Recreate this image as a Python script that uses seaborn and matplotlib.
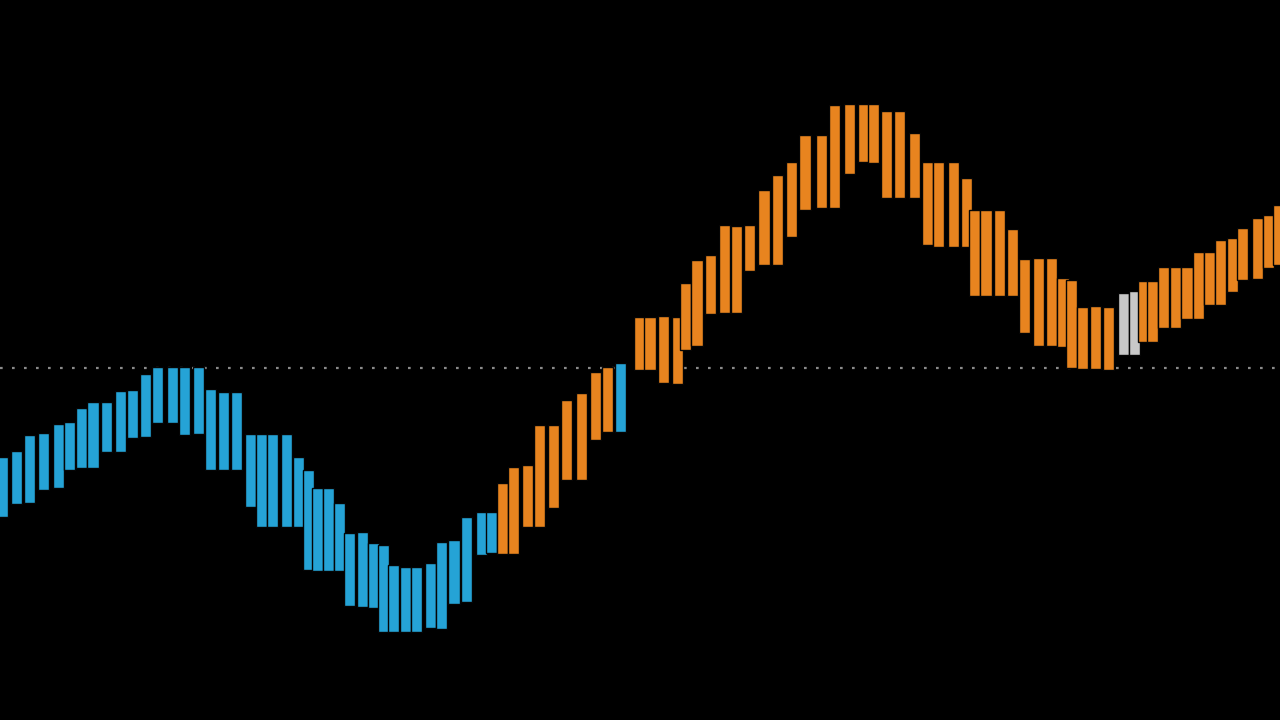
import numpy as np
import pandas as pd
import matplotlib
matplotlib.use("Agg")
import matplotlib.pyplot as plt
import seaborn as sns

# time position of each brick (minutes)
times = [0.2, 1.3, 2.4, 3.5, 4.7, 5.6, 6.6, 7.5, 8.6, 9.7, 10.7, 11.7, 12.7, 13.9, 14.9, 16.0,
         17.0, 18.0, 19.1, 20.2, 21.1, 22.0, 23.1, 24.1, 24.9, 25.6, 26.5, 27.4, 28.2, 29.2,
         30.1, 30.9, 31.7, 32.7, 33.6, 34.7, 35.6, 36.6, 37.6, 38.8, 39.6, 40.5, 41.4, 42.5,
         43.5, 44.6, 45.7, 46.9, 48.0, 49.0, 50.0, 51.6, 52.4, 53.5, 54.6, 55.3, 56.2, 57.3,
         58.4, 59.4, 60.4, 61.6, 62.7, 63.8, 64.9, 66.2, 67.3, 68.5, 69.6, 70.4, 71.5, 72.5,
         73.7, 74.8, 75.7, 76.9, 77.9, 78.6, 79.5, 80.6, 81.6, 82.6, 83.7, 84.8, 85.7, 86.4,
         87.3, 88.3, 89.4, 90.6, 91.5, 92.2, 92.9, 93.8, 94.8, 95.7, 96.6, 97.5, 98.4, 99.4,
         100.2, 101.4, 102.3, 103.1]

highs = [-8.9, -8.3, -6.7, -6.5, -5.6, -5.4, -4.0, -3.4, -3.4, -2.3, -2.2, -0.6, 0.1, 0.1, 0.1, 0.1,
         -2.1, -2.4, -2.4, -6.6, -6.6, -6.6, -6.6, -8.9, -10.2, -12.0, -12.0, -13.5, -16.5, -16.4,
         -17.5, -17.7, -19.7, -19.9, -19.9, -19.5, -17.4, -17.2, -14.9, -14.4, -14.4, -11.5, -9.9, -9.7,
         -5.7, -5.7, -3.2, -2.5, -0.4, 0.1, 0.5, 5.1, 5.1, 5.2, 5.1, 8.5, 10.8, 11.3,
         14.3, 14.2, 14.3, 17.8, 19.3, 20.6, 23.3, 23.3, 26.3, 26.4, 26.4, 26.4, 25.7, 25.7,
         23.5, 20.6, 20.6, 20.6, 19.0, 15.8, 15.8, 15.8, 13.9, 10.9, 11.0, 11.0, 9.0, 8.8,
         6.1, 6.2, 6.1, 7.5, 7.7, 8.7, 8.7, 10.1, 10.1, 10.1, 11.6, 11.6, 12.8, 13.0,
         14.0, 15.0, 15.3, 16.3]

lows = [-14.9, -13.6, -13.5, -12.2, -12.0, -10.2, -10.0, -10.0, -8.4, -8.4, -7.0, -6.9, -5.5, -5.5, -6.7, -6.6,
        -10.2, -10.2, -10.2, -13.9, -15.9, -15.9, -15.9, -15.9, -20.2, -20.3, -20.3, -20.3, -23.8, -23.9,
        -24.0, -26.4, -26.4, -26.4, -26.4, -26.0, -26.1, -23.6, -23.4, -18.7, -18.5, -18.6, -18.6, -15.9,
        -15.9, -14.0, -11.2, -11.2, -7.2, -6.4, -6.4, -0.2, -0.2, -1.5, -1.6, 1.8, 2.2, 5.4,
        5.5, 5.5, 9.7, 10.3, 10.3, 13.1, 15.8, 16.0, 16.0, 19.4, 20.6, 20.5, 17.0, 17.0,
        17.0, 12.3, 12.1, 12.1, 12.1, 7.2, 7.2, 7.2, 7.2, 3.5, 2.2, 2.2, 2.1, 0.0,
        -0.1, -0.1, -0.2, 1.3, 1.3, 2.6, 2.6, 4.0, 4.0, 4.9, 4.9, 6.3, 6.3, 7.6,
        8.8, 8.9, 10.0, 10.3]

# trend state of each brick: "down", "up" or "flat"
states = (["down"] * 41 + ["up"] * 9 + ["down"] + ["up"] * 38 + ["flat"] * 2 + ["up"] * 13)

palette = {"down": "#25a3d6", "up": "#e8841f", "flat": "#c8c8c8"}

df = pd.DataFrame({"time": times, "low": lows, "high": highs, "state": states})
df["size"] = df["high"] - df["low"]

sns.set_theme(style="dark")
fig = plt.figure(figsize=(12.8, 7.2), dpi=100, facecolor="black")
ax = fig.add_axes([0, 0, 1, 1])
ax.set_facecolor("black")

ax.axhline(0, color="#8a8a8a", linewidth=1.6, linestyle=(0, (1.2, 4.2)), zorder=0)

native = np.min(np.diff(np.unique(df["time"])))
sns.barplot(data=df, x="time", y="size", native_scale=True, errorbar=None,
            width=0.9 / native, color=palette["up"], saturation=1,
            bottom=df["low"].to_numpy(),
            facecolor=[palette[s] for s in df["state"]],
            edgecolor="#050505", linewidth=1.0, ax=ax, zorder=2)

ax.set_xlim(0, 103.2)
ax.set_ylim(-35.2, 36.8)
ax.set_axis_off()
ax.grid(False)

fig.savefig("out.png", dpi=100, facecolor="black")
